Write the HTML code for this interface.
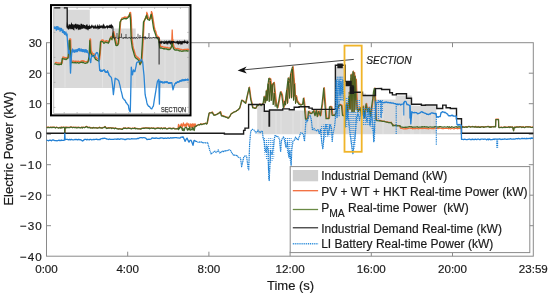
<!DOCTYPE html>
<html><head><meta charset="utf-8">
<style>
html,body{margin:0;padding:0;background:#fff;width:550px;height:296px;overflow:hidden}
svg{display:block}
text{font-family:"Liberation Sans",Arial,sans-serif;fill:#1a1a1a;stroke:#1a1a1a;stroke-width:0.18px}
</style></head><body>
<svg width="550" height="296" viewBox="0 0 550 296">
<!-- main axes box -->
<g id="axes" fill="none" stroke="#8a8a8a" stroke-width="1">
<rect x="46.5" y="42.7" width="486.8" height="213.5"/>
</g>
<!-- ticks -->
<g id="ticks" stroke="#8a8a8a" stroke-width="1" fill="none">
<path d="M127.7 256.2v-4.5M208.9 256.2v-4.5M290.1 256.2v-4.5M371.3 256.2v-4.5M452.5 256.2v-4.5
M127.7 42.7v4.5M208.9 42.7v4.5M290.1 42.7v4.5M371.3 42.7v4.5M452.5 42.7v4.5
M46.5 73.2h4.5M46.5 103.7h4.5M46.5 134.2h4.5M46.5 164.7h4.5M46.5 195.2h4.5M46.5 225.7h4.5
M533.3 73.2h-4.5M533.3 103.7h-4.5M533.3 134.2h-4.5M533.3 164.7h-4.5M533.3 195.2h-4.5M533.3 225.7h-4.5"/>
</g>
<!-- tick labels -->
<g font-size="11.7" text-anchor="end">
<text x="41.8" y="47">30</text>
<text x="41.8" y="77.5">20</text>
<text x="41.8" y="108">10</text>
<text x="41.8" y="138.5">0</text>
<text x="41.8" y="169" textLength="21.7" lengthAdjust="spacing">−10</text>
<text x="41.8" y="199.5" textLength="21.7" lengthAdjust="spacing">−20</text>
<text x="41.8" y="230" textLength="21.7" lengthAdjust="spacing">−30</text>
<text x="41.8" y="260.5" textLength="21.7" lengthAdjust="spacing">−40</text>
</g>
<g font-size="11.6" text-anchor="middle">
<text x="46.5" y="272.8">0:00</text>
<text x="127.7" y="272.8">4:00</text>
<text x="208.9" y="272.8">8:00</text>
<text x="290.1" y="272.8">12:00</text>
<text x="371.3" y="272.8">16:00</text>
<text x="452.5" y="272.8">20:00</text>
<text x="533.3" y="272.8">23:59</text>
</g>
<text x="290.6" y="289.6" font-size="13" text-anchor="middle">Time (s)</text>
<text transform="translate(12.5 148.5) rotate(-90)" font-size="13" text-anchor="middle">Electric Power (kW)</text>

<!-- DATA -->
<g id="data">
<defs><pattern id="hb" width="1.9" height="2" patternUnits="userSpaceOnUse"><rect width="1.1" height="1" fill="#2a86d8"/></pattern><pattern id="hb2" width="1.4" height="1.8" patternUnits="userSpaceOnUse"><rect width="1.1" height="1.1" fill="#1f7fd2"/></pattern></defs>
<path d="M257.2 134.2 L257.2 105.8 L263.7 105.8 L263.7 111.5 L269.0 111.5 L269.0 110.5 L335.4 110.5 L335.4 67.0 L345.0 67.0 L345.0 82.0 L351.0 82.0 L351.0 92.0 L361.0 92.0 L361.0 93.5 L366.0 93.5 L366.0 96.0 L373.3 96.0 L373.3 99.5 L395.6 99.5 L395.6 95.5 L411.8 95.5 L411.8 105.6 L436.3 106.3 L436.3 134.2 L257.2 134.2Z" fill="#d9d9d9"/>
<path d="M436.3 133.8H462" stroke="#c4c4c4" stroke-width="1.2"/>
<path d="M262 112V134M276 112V134M281 112V134M293 112V134M301 112V134M309 112V134M318 112V134M327 112V134M372 112V134M383 112V134M403 112V134M411 112V134M413 112V134M420 112V134M432 112V134" stroke="#e6e6e6" stroke-width="0.8"/>
<path d="M46.5 127.2 L47.2 127.1 L47.9 127.5 L48.6 127.0 L49.3 127.4 L50.0 127.3 L50.7 127.0 L51.4 127.4 L52.1 127.0 L52.8 127.3 L53.5 127.0 L54.2 127.0 L54.9 127.3 L55.6 127.7 L56.3 127.1 L57.0 127.2 L57.7 127.5 L58.4 127.8 L59.1 127.5 L59.8 127.3 L60.5 127.8 L61.2 127.0 L61.9 127.7 L62.6 127.2 L63.3 127.1 L64.0 127.1 L64.5 127.4 L64.8 133.1 L65.1 127.4 L65.5 127.1 L66.2 127.6 L66.9 127.0 L67.6 127.4 L68.3 127.4 L69.0 127.2 L69.7 127.3 L70.4 126.9 L71.1 126.9 L71.8 127.0 L72.5 127.5 L73.2 127.2 L73.9 127.1 L74.6 127.4 L75.3 127.3 L76.0 127.1 L76.7 127.6 L77.4 127.5 L78.1 127.1 L78.8 127.4 L79.5 127.3 L80.2 127.6 L80.9 127.5 L81.6 127.1 L82.3 127.7 L83.0 127.0 L83.7 127.2 L84.4 127.5 L86.5 126.3 L88.0 127.5 L88.5 127.2 L89.2 127.5 L89.9 127.1 L90.6 127.7 L91.3 127.7 L92.0 127.6 L92.7 127.8 L93.4 127.3 L94.1 127.7 L94.8 127.6 L95.5 127.6 L96.2 127.5 L96.9 127.8 L97.6 127.9 L98.3 127.5 L99.0 127.6 L99.7 127.1 L100.4 127.7 L101.1 127.6 L101.8 127.9 L102.5 127.8 L103.2 127.3 L103.9 127.4 L105.0 126.3 L106.5 128.2 L107.5 128.1 L108.2 127.5 L108.9 127.9 L109.6 127.7 L110.3 127.7 L111.0 127.6 L111.7 128.3 L112.4 127.8 L113.1 127.9 L113.8 128.0 L114.5 128.5 L115.2 127.8 L115.9 128.2 L116.6 128.3 L117.3 128.6 L118.0 128.6 L118.8 128.8 L119.5 128.5 L120.2 128.7 L121.0 128.9 L121.8 129.1 L122.5 129.0 L123.2 128.1 L124.0 127.9 L124.7 128.0 L125.4 127.9 L126.2 128.2 L126.9 128.3 L127.6 128.0 L128.3 127.7 L129.1 128.1 L129.8 128.0 L130.5 128.2 L131.2 128.6 L131.9 128.3 L132.7 128.1 L133.4 128.2 L134.1 128.3 L134.8 127.7 L135.6 128.5 L136.3 128.4 L137.0 128.4 L137.8 128.6 L138.5 128.5 L139.2 128.7 L140.0 128.6 L140.8 128.9 L141.6 128.2 L142.4 128.1 L143.2 128.0 L144.0 127.8 L144.7 128.0 L145.4 127.7 L146.1 127.7 L146.8 127.8 L147.5 127.8 L148.2 128.0 L149.0 127.7 L149.7 128.5 L150.4 128.2 L151.1 127.8 L151.8 127.9 L152.5 128.0 L153.2 128.0 L153.9 127.8 L154.6 128.5 L155.3 128.6 L156.0 128.1 L156.8 128.2 L157.5 127.8 L158.2 127.8 L158.9 128.0 L159.6 128.0 L160.3 128.5 L161.0 127.9 L161.7 127.8 L162.4 128.6 L163.1 128.2 L163.8 127.9 L164.5 128.3 L165.2 127.8 L166.0 128.3 L166.7 128.7 L167.4 128.6 L168.1 128.4 L168.8 128.0 L169.5 128.1 L170.2 128.0 L170.9 128.5 L171.6 128.3 L172.3 128.5 L173.0 128.1 L173.8 128.0 L174.5 128.6 L175.2 128.7 L175.9 128.6 L176.6 128.6 L177.3 128.6 L178.0 128.3 L178.5 124.3 L178.9 125.1 L179.4 127.7 L179.8 126.1 L180.3 127.3 L180.7 125.2 L181.2 123.9 L181.6 124.0 L182.1 127.7 L182.5 126.4 L183.0 124.3 L183.4 122.8 L183.9 125.3 L184.3 126.2 L184.8 124.9 L185.2 124.0 L185.7 126.2 L186.1 127.5 L186.6 123.9 L187.0 122.9 L187.5 124.5 L187.9 124.9 L188.4 126.2 L188.8 123.7 L189.3 126.8 L189.7 126.5 L190.2 125.3 L190.6 123.8 L191.1 127.7 L191.5 124.3 L192.0 127.0 L192.4 123.9 L192.9 123.9 L193.3 126.7 L193.8 124.2 L194.2 127.7 L194.7 125.3 L195.0 123.7 L196.1 126.2 L196.8 125.7 L197.5 125.0 L198.3 124.7 L199.0 124.4 L199.7 124.7 L200.4 124.3 L201.1 123.7 L201.8 124.2 L202.5 124.2 L203.2 123.9 L203.9 123.5 L204.6 123.6 L205.3 123.2 L206.0 123.0 L206.7 123.7 L207.4 123.4 L208.4 118.0 L209.4 113.0 L210.2 112.5 L210.9 112.7 L211.7 112.5 L212.4 111.9 L213.4 113.5 L214.4 115.0 L215.2 114.7 L215.9 114.7 L216.7 114.2 L217.4 114.1 L218.2 113.2 L219.1 113.2 L219.9 112.2 L220.7 111.6 L221.7 115.2 L222.5 115.7 L223.2 115.6 L224.0 116.2 L224.7 116.2 L225.5 116.6 L226.3 117.0 L227.2 117.0 L228.0 117.7 L228.8 117.9 L229.6 116.5 L230.3 115.9 L231.1 114.1 L231.8 113.1 L232.6 113.0 L233.3 112.4 L234.1 111.9 L234.9 111.7 L235.7 111.3 L236.4 111.1 L237.2 110.1 L237.9 110.1 L239.0 108.8 L240.0 107.9 L241.0 104.2 L242.0 100.0 L243.0 100.5 L244.0 101.2 L245.0 102.3 L246.0 102.9 L246.8 99.5 L247.5 95.9 L248.5 91.4 L249.5 87.1 L250.3 92.9 L251.1 99.0 L252.1 103.0 L253.1 107.4 L253.9 107.5 L254.7 107.9 L255.4 108.2 L256.2 107.9 L257.4 105.3 L258.1 105.3 L259.1 104.7 L259.8 103.8 L260.8 104.3 L261.8 105.1 L262.8 103.8 L263.8 102.9 L264.8 96.0 L265.8 98.1 L266.9 100.3 L267.6 94.3 L268.3 87.6 L269.5 78.0 L270.9 78.9 L271.9 91.7 L272.9 84.1 L273.6 83.5 L274.4 82.3 L275.6 94.4 L276.6 103.0 L277.3 105.1 L278.0 107.6 L278.8 103.9 L279.6 99.8 L280.3 95.7 L281.1 91.5 L281.8 93.1 L282.5 94.8 L283.3 101.0 L284.1 107.4 L285.1 103.3 L286.1 100.1 L286.9 94.0 L287.7 87.5 L288.8 77.7 L290.2 81.9 L291.0 76.8 L291.8 71.4 L293.2 66.5 L294.2 78.0 L295.3 95.4 L296.5 95.7 L297.7 100.8 L299.1 102.8 L299.8 104.0 L300.5 104.1 L301.2 104.6 L301.9 104.4 L302.6 104.3 L303.3 103.8 L304.1 97.9 L305.0 105.2 L306.2 118.7 L306.9 118.5 L307.7 118.6 L308.4 118.1 L309.2 111.1 L310.0 112.3 L310.9 112.8 L311.7 113.2 L312.6 112.8 L313.4 111.5 L314.3 110.5 L315.7 115.2 L316.9 109.8 L318.0 116.2 L319.2 110.8 L320.1 113.0 L321.0 115.4 L321.8 109.5 L322.7 103.8 L323.6 95.6 L324.4 87.7 L325.3 99.5 L326.7 118.2 L327.4 118.1 L328.1 118.1 L328.8 118.0 L329.5 118.2 L330.2 106.3 L331.1 106.3 L332.0 106.7 L332.7 114.8 L333.6 115.0 L334.5 114.7 L335.4 114.9 L336.7 112.1 L337.4 110.3 L338.1 108.1 L338.9 106.7 L339.6 104.5 L340.5 104.4 L341.3 104.7 L342.2 105.2 L343.2 114.7 L344.0 115.3 L344.9 114.9 L345.7 115.0 L346.4 109.5 L347.2 103.4 L348.2 111.5 L348.9 103.7 L349.7 95.9 L350.7 107.4 L351.9 77.8 L352.7 99.7 L353.7 73.6 L354.7 72.4 L355.7 99.4 L356.4 79.1 L357.4 104.2 L358.7 111.2 L359.7 109.7 L360.7 107.3 L361.4 111.2 L362.2 115.2 L362.9 110.8 L363.7 105.8 L364.4 111.6 L365.2 117.3 L365.9 110.3 L366.7 103.3 L367.4 107.5 L368.2 111.2 L368.9 109.5 L369.7 107.3 L370.4 111.9 L371.2 115.9 L371.9 109.5 L372.7 103.3 L373.4 97.9 L374.2 91.3 L375.0 87.9 L375.9 103.1 L376.2 120.1 L377.0 120.3 L377.7 120.4 L378.5 120.3 L379.2 120.6 L380.0 120.3 L380.8 120.7 L381.6 120.7 L382.4 121.1 L383.2 121.0 L384.0 121.1 L384.8 121.4 L385.6 121.5 L386.4 121.9 L387.2 121.9 L388.0 122.2 L388.8 122.2 L389.5 122.3 L390.2 122.5 L391.0 122.2 L392.0 123.6 L393.0 125.6 L393.7 124.9 L394.4 125.4 L395.1 125.3 L395.8 124.9 L396.5 125.5 L397.2 125.6 L397.9 125.4 L398.6 125.5 L399.3 125.5 L400.0 127.1 L400.5 128.2 L401.3 128.5 L402.1 128.5 L402.9 128.8 L403.7 128.8 L404.5 128.8 L405.3 128.6 L406.1 128.9 L406.9 128.7 L407.7 128.7 L408.5 128.3 L409.3 128.1 L410.1 128.2 L410.9 128.4 L411.7 128.1 L412.5 128.8 L413.3 128.6 L414.1 128.6 L414.9 128.6 L415.7 128.7 L416.5 128.5 L417.3 128.1 L418.1 128.8 L418.9 128.7 L419.7 128.5 L420.5 128.5 L421.3 128.6 L422.1 128.1 L422.9 128.7 L423.7 128.3 L424.5 128.1 L425.3 128.3 L426.1 128.7 L426.9 128.2 L427.7 128.7 L428.5 128.9 L429.3 128.5 L430.1 128.4 L430.9 128.5 L431.7 128.7 L432.5 128.7 L433.3 128.6 L434.1 128.6 L434.9 128.1 L435.7 128.2 L436.5 128.3 L437.3 128.7 L438.1 128.3 L438.9 128.6 L439.7 128.1 L440.5 128.1 L441.3 128.3 L442.1 128.7 L442.9 128.7 L443.7 128.7 L444.5 128.3 L445.3 128.5 L446.1 128.5 L446.9 128.5 L447.7 128.2 L448.5 128.9 L449.3 128.2 L450.1 128.9 L450.9 128.9 L451.7 128.1 L452.5 128.5 L453.3 128.8 L454.1 128.9 L454.9 128.5 L455.7 128.3 L456.5 128.2 L457.3 128.9 L458.1 128.2 L458.9 128.6 L459.7 128.2 L460.5 128.5 L461.3 128.9 L462.1 126.4 L462.9 127.0 L463.7 126.7 L464.5 127.0 L465.3 126.9 L466.1 126.5 L466.9 127.1 L467.7 126.7 L468.5 126.3 L469.3 126.3 L470.1 126.7 L470.9 126.7 L471.7 126.5 L472.5 126.4 L473.3 126.6 L474.1 126.5 L474.9 127.0 L475.7 126.3 L476.5 126.9 L477.3 127.0 L478.1 126.4 L478.9 127.1 L479.7 126.9 L480.5 127.1 L481.3 126.5 L482.1 126.6 L482.9 126.6 L483.7 127.1 L484.5 126.8 L485.3 126.6 L486.1 126.6 L486.9 126.5 L487.7 126.3 L488.5 126.3 L489.3 127.0 L490.1 126.5 L490.9 127.1 L491.7 126.5 L492.5 126.5 L493.3 126.7 L494.1 126.4 L494.9 126.6 L495.6 126.5 L495.8 119.2 L498.5 119.2 L498.7 126.9 L499.3 127.4 L500.0 127.3 L500.7 127.2 L501.4 127.1 L502.1 127.3 L502.8 127.4 L503.5 127.0 L504.2 127.2 L504.9 126.6 L505.6 127.2 L506.3 127.0 L507.0 127.2 L507.7 127.1 L508.4 126.8 L509.1 126.6 L509.8 127.3 L510.5 126.7 L511.2 127.0 L511.9 126.9 L512.6 126.8 L513.6 130.5 L514.2 127.0 L514.8 127.1 L515.5 127.3 L516.2 126.7 L516.9 127.0 L517.6 126.7 L518.3 126.9 L519.0 126.8 L519.7 126.6 L520.4 126.6 L521.1 126.7 L521.8 127.2 L522.5 126.9 L523.2 126.7 L523.9 127.2 L524.6 127.3 L525.3 126.9 L526.0 126.6 L526.7 126.7 L527.4 126.6 L528.1 126.8 L528.8 126.6 L529.5 126.7 L530.2 126.7 L530.9 127.0 L531.6 127.2 L532.3 127.1 L533.0 126.8" fill="none" stroke="#f0703a" stroke-width="1.2" stroke-linejoin="round"/>
<path d="M46.5 127.5 L47.2 127.4 L47.9 127.8 L48.6 127.3 L49.3 127.7 L50.0 127.6 L50.7 127.3 L51.4 127.7 L52.1 127.3 L52.8 127.6 L53.5 127.3 L54.2 127.3 L54.9 127.6 L55.6 128.0 L56.3 127.4 L57.0 127.5 L57.7 127.8 L58.4 128.1 L59.1 127.8 L59.8 127.6 L60.5 128.1 L61.2 127.3 L61.9 128.0 L62.6 127.5 L63.3 127.4 L64.0 127.4 L64.5 127.7 L64.8 133.4 L65.1 127.7 L65.5 127.4 L66.2 127.9 L66.9 127.3 L67.6 127.7 L68.3 127.7 L69.0 127.5 L69.7 127.6 L70.4 127.2 L71.1 127.2 L71.8 127.3 L72.5 127.8 L73.2 127.5 L73.9 127.4 L74.6 127.7 L75.3 127.6 L76.0 127.4 L76.7 127.9 L77.4 127.8 L78.1 127.4 L78.8 127.7 L79.5 127.6 L80.2 127.9 L80.9 127.8 L81.6 127.4 L82.3 128.0 L83.0 127.3 L83.7 127.5 L84.4 127.8 L86.5 126.6 L88.0 127.8 L88.5 127.5 L89.2 127.8 L89.9 127.4 L90.6 128.0 L91.3 128.0 L92.0 127.9 L92.7 128.1 L93.4 127.6 L94.1 128.0 L94.8 127.9 L95.5 127.9 L96.2 127.8 L96.9 128.1 L97.6 128.2 L98.3 127.8 L99.0 127.9 L99.7 127.4 L100.4 128.0 L101.1 127.9 L101.8 128.2 L102.5 128.1 L103.2 127.6 L103.9 127.7 L105.0 126.6 L106.5 128.5 L107.5 128.4 L108.2 127.8 L108.9 128.2 L109.6 128.0 L110.3 128.0 L111.0 127.9 L111.7 128.6 L112.4 128.1 L113.1 128.2 L113.8 128.3 L114.5 128.8 L115.2 128.1 L115.9 128.5 L116.6 128.6 L117.3 128.9 L118.0 128.9 L118.8 129.1 L119.5 128.8 L120.2 129.0 L121.0 129.2 L121.8 129.4 L122.5 129.3 L123.2 128.4 L124.0 128.2 L124.7 128.3 L125.4 128.2 L126.2 128.5 L126.9 128.6 L127.6 128.3 L128.3 128.0 L129.1 128.4 L129.8 128.3 L130.5 128.5 L131.2 128.9 L131.9 128.6 L132.7 128.4 L133.4 128.5 L134.1 128.6 L134.8 128.0 L135.6 128.8 L136.3 128.7 L137.0 128.7 L137.8 128.9 L138.5 128.8 L139.2 129.0 L140.0 128.9 L140.8 129.2 L141.6 128.5 L142.4 128.4 L143.2 128.3 L144.0 128.1 L144.7 128.3 L145.4 128.0 L146.1 128.0 L146.8 128.1 L147.5 128.1 L148.2 128.3 L149.0 128.0 L149.7 128.8 L150.4 128.5 L151.1 128.1 L151.8 128.2 L152.5 128.3 L153.2 128.3 L153.9 128.1 L154.6 128.8 L155.3 128.9 L156.0 128.4 L156.8 128.5 L157.5 128.1 L158.2 128.1 L158.9 128.3 L159.6 128.3 L160.3 128.8 L161.0 128.2 L161.7 128.1 L162.4 128.9 L163.1 128.5 L163.8 128.2 L164.5 128.6 L165.2 128.1 L166.0 128.6 L166.7 129.0 L167.4 128.9 L168.1 128.7 L168.8 128.3 L169.5 128.4 L170.2 128.3 L170.9 128.8 L171.6 128.6 L172.3 128.8 L173.0 128.4 L173.8 128.3 L174.5 128.9 L175.2 129.0 L175.9 128.9 L176.6 128.9 L177.3 128.9 L178.0 128.6 L178.5 129.6 L178.9 127.5 L179.4 128.7 L179.8 128.0 L180.3 126.7 L180.7 126.7 L181.2 127.7 L181.6 127.6 L182.1 129.4 L182.5 130.4 L183.0 128.4 L183.4 130.3 L183.9 130.6 L184.3 130.4 L184.8 128.1 L185.2 127.5 L185.7 127.5 L186.1 127.4 L186.6 127.4 L187.0 129.1 L187.5 130.2 L187.9 130.0 L188.4 128.5 L188.8 129.2 L189.3 129.8 L189.7 126.9 L190.2 129.2 L190.6 130.2 L191.1 129.7 L191.5 129.6 L192.0 128.5 L192.4 127.3 L192.9 129.8 L193.3 127.9 L193.8 129.8 L194.2 130.5 L194.7 128.2 L195.0 126.4 L195.7 126.6 L196.4 126.1 L197.1 125.3 L197.9 125.0 L198.6 124.7 L199.3 125.0 L200.0 124.6 L200.7 124.0 L201.4 124.5 L202.1 124.5 L202.8 124.2 L203.5 123.9 L204.2 124.0 L204.9 123.5 L205.6 123.4 L206.3 124.1 L207.0 123.7 L208.0 118.3 L209.0 113.3 L209.8 112.8 L210.5 113.0 L211.2 112.9 L212.0 112.3 L213.0 113.8 L214.0 115.3 L214.8 115.0 L215.5 115.1 L216.2 114.6 L217.0 114.4 L217.8 113.6 L218.7 113.6 L219.5 112.5 L220.3 112.0 L221.3 115.6 L222.1 116.1 L222.8 115.9 L223.6 116.6 L224.3 116.5 L225.1 116.9 L225.9 117.3 L226.8 117.3 L227.6 118.1 L228.4 118.2 L229.2 116.9 L229.9 116.2 L230.7 114.5 L231.4 113.5 L232.2 113.3 L232.9 112.8 L233.7 112.2 L234.5 112.0 L235.2 111.6 L236.0 111.4 L236.8 110.5 L237.5 110.4 L238.6 109.2 L239.6 108.2 L240.6 104.6 L241.6 100.3 L242.6 100.8 L243.6 101.5 L244.6 102.6 L245.6 103.3 L246.3 99.8 L247.1 96.2 L248.1 91.8 L249.1 87.5 L249.9 93.3 L250.7 99.3 L251.7 103.3 L252.7 107.8 L253.5 107.8 L254.2 108.2 L255.0 108.5 L255.8 108.2 L257.0 105.6 L257.7 105.6 L258.4 105.2 L259.1 104.3 L260.1 104.8 L261.1 105.6 L262.1 104.3 L263.1 103.4 L264.1 96.5 L265.1 98.6 L266.2 100.8 L266.9 94.8 L267.6 88.1 L268.8 78.5 L270.2 79.4 L271.2 92.2 L272.2 84.6 L272.9 84.0 L273.7 82.8 L274.9 94.9 L275.9 103.5 L276.6 105.6 L277.3 108.1 L278.1 104.4 L278.9 100.3 L279.6 96.2 L280.4 92.0 L281.1 93.6 L281.8 95.3 L282.6 101.5 L283.4 107.9 L284.4 103.8 L285.4 100.6 L286.2 94.5 L287.0 88.0 L288.1 78.2 L289.5 82.4 L290.3 77.3 L291.1 71.9 L292.5 67.0 L293.5 78.5 L294.6 95.9 L295.8 96.2 L297.0 101.3 L298.4 103.3 L299.1 104.5 L299.8 104.6 L300.5 105.1 L301.2 104.9 L301.9 104.8 L302.6 104.3 L303.4 98.4 L304.3 105.7 L305.5 119.2 L306.2 119.0 L307.0 119.1 L307.7 118.6 L308.5 111.6 L309.3 112.8 L310.2 113.3 L311.0 113.7 L311.9 113.3 L312.7 112.0 L313.6 111.0 L315.0 115.7 L316.2 110.3 L317.3 116.7 L318.5 111.3 L319.4 113.5 L320.3 115.9 L321.1 110.0 L322.0 104.3 L322.9 96.1 L323.7 88.2 L324.6 100.0 L326.0 118.7 L326.7 118.6 L327.4 118.6 L328.1 118.5 L328.8 118.7 L329.5 106.8 L330.4 106.8 L331.3 107.2 L332.0 115.3 L332.9 115.5 L333.8 115.2 L334.7 115.4 L336.0 112.6 L336.7 110.8 L337.4 108.6 L338.2 107.2 L338.9 105.0 L339.8 104.9 L340.6 105.2 L341.5 105.7 L342.5 115.2 L343.3 115.8 L344.2 115.4 L345.0 115.5 L345.8 110.0 L346.5 103.9 L347.5 112.0 L348.2 104.2 L349.0 96.4 L350.0 107.9 L351.2 78.3 L352.0 100.2 L353.0 74.1 L354.0 72.9 L355.0 99.9 L355.7 79.6 L356.7 104.7 L358.0 111.7 L359.0 110.2 L360.0 107.8 L360.8 111.7 L361.5 115.7 L362.2 111.3 L363.0 106.3 L363.8 112.1 L364.5 117.8 L365.2 110.8 L366.0 103.8 L366.8 108.0 L367.5 111.7 L368.2 110.0 L369.0 107.8 L369.8 112.4 L370.5 116.4 L371.2 110.0 L372.0 103.8 L372.8 98.4 L373.5 91.8 L374.3 88.4 L375.2 103.6 L376.2 120.4 L377.0 120.6 L377.7 120.7 L378.5 120.6 L379.2 120.9 L380.0 120.6 L380.8 121.0 L381.6 121.0 L382.4 121.4 L383.2 121.3 L384.0 121.4 L384.8 121.7 L385.6 121.8 L386.4 122.2 L387.2 122.2 L388.0 122.5 L388.8 122.5 L389.5 122.6 L390.2 122.8 L391.0 122.5 L392.0 123.9 L393.0 125.9 L393.7 125.2 L394.4 125.7 L395.1 125.6 L395.8 125.2 L396.5 125.8 L397.2 125.9 L397.9 125.7 L398.6 125.8 L399.3 125.8 L400.0 125.6 L400.5 126.7 L401.3 127.0 L402.1 127.0 L402.9 127.3 L403.7 127.3 L404.5 127.3 L405.3 127.1 L406.1 127.4 L406.9 127.2 L407.7 127.2 L408.5 126.8 L409.3 126.6 L410.1 126.7 L410.9 126.9 L411.7 126.6 L412.5 127.3 L413.3 127.1 L414.1 127.1 L414.9 127.1 L415.7 127.2 L416.5 127.0 L417.3 126.6 L418.1 127.3 L418.9 127.2 L419.7 127.0 L420.5 127.0 L421.3 127.1 L422.1 126.6 L422.9 127.2 L423.7 126.8 L424.5 126.6 L425.3 126.8 L426.1 127.2 L426.9 126.7 L427.7 127.2 L428.5 127.4 L429.3 127.0 L430.1 126.9 L430.9 127.0 L431.7 127.2 L432.5 127.2 L433.3 127.1 L434.1 127.1 L434.9 126.6 L435.7 126.7 L436.5 126.8 L437.3 127.2 L438.1 126.8 L438.9 127.1 L439.7 126.6 L440.5 126.6 L441.3 126.8 L442.1 127.2 L442.9 127.2 L443.7 127.2 L444.5 126.8 L445.3 127.0 L446.1 127.0 L446.9 127.0 L447.7 126.7 L448.5 127.4 L449.3 126.7 L450.1 127.4 L450.9 127.4 L451.7 126.6 L452.5 127.0 L453.3 127.3 L454.1 127.4 L454.9 127.0 L455.7 126.8 L456.5 126.7 L457.3 127.4 L458.1 126.7 L458.9 127.1 L459.7 126.7 L460.5 127.0 L461.3 127.4 L462.1 126.7 L462.9 127.3 L463.7 127.0 L464.5 127.3 L465.3 127.2 L466.1 126.8 L466.9 127.4 L467.7 127.0 L468.5 126.6 L469.3 126.6 L470.1 127.0 L470.9 127.0 L471.7 126.8 L472.5 126.7 L473.3 126.9 L474.1 126.8 L474.9 127.3 L475.7 126.6 L476.5 127.2 L477.3 127.3 L478.1 126.7 L478.9 127.4 L479.7 127.2 L480.5 127.4 L481.3 126.8 L482.1 126.9 L482.9 126.9 L483.7 127.4 L484.5 127.1 L485.3 126.9 L486.1 126.9 L486.9 126.8 L487.7 126.6 L488.5 126.6 L489.3 127.3 L490.1 126.8 L490.9 127.4 L491.7 126.8 L492.5 126.8 L493.3 127.0 L494.1 126.7 L494.9 126.9 L495.6 126.8 L495.8 119.5 L498.5 119.5 L498.7 127.2 L499.3 127.7 L500.0 127.6 L500.7 127.5 L501.4 127.4 L502.1 127.6 L502.8 127.7 L503.5 127.3 L504.2 127.5 L504.9 126.9 L505.6 127.5 L506.3 127.3 L507.0 127.5 L507.7 127.4 L508.4 127.1 L509.1 126.9 L509.8 127.6 L510.5 127.0 L511.2 127.3 L511.9 127.2 L512.6 127.1 L513.6 130.8 L514.2 127.3 L514.8 127.4 L515.5 127.6 L516.2 127.0 L516.9 127.3 L517.6 127.0 L518.3 127.2 L519.0 127.1 L519.7 126.9 L520.4 126.9 L521.1 127.0 L521.8 127.5 L522.5 127.2 L523.2 127.0 L523.9 127.5 L524.6 127.6 L525.3 127.2 L526.0 126.9 L526.7 127.0 L527.4 126.9 L528.1 127.1 L528.8 126.9 L529.5 127.0 L530.2 127.0 L530.9 127.3 L531.6 127.5 L532.3 127.4 L533.0 127.1" fill="none" stroke="#46682a" stroke-width="1.25" stroke-linejoin="round"/>
<path d="M264.6 96.2 L265.6 102.5 L266.6 89.8 L267.6 99.9 L268.6 82.8 L269.6 101.0 L270.6 80.2 L271.6 100.0 L272.6 83.5 L273.6 104.1 L274.6 92.0 L275.6 106.0" fill="none" stroke="#f0703a" stroke-width="0.7"/>
<path d="M264.2 97.0 L265.2 103.3 L266.2 90.6 L267.2 100.7 L268.2 83.6 L269.2 101.8 L270.2 81.0 L271.2 100.8 L272.2 84.3 L273.2 104.9 L274.2 92.8 L275.2 106.8" fill="none" stroke="#3b5c1c" stroke-width="0.95"/>
<path d="M284.9 100.2 L285.9 104.4 L286.9 89.5 L287.9 102.8 L288.9 80.5 L289.9 97.7 L290.9 73.0 L291.9 97.4 L292.9 68.0 L293.9 99.7 L294.9 83.0 L295.9 102.9 L296.9 96.4" fill="none" stroke="#f0703a" stroke-width="0.7"/>
<path d="M284.5 101.0 L285.5 105.2 L286.5 90.3 L287.5 103.6 L288.5 81.3 L289.5 98.5 L290.5 73.8 L291.5 98.2 L292.5 68.8 L293.5 100.5 L294.5 83.8 L295.5 103.7 L296.5 97.2" fill="none" stroke="#3b5c1c" stroke-width="0.95"/>
<path d="M349.4 91.2 L350.4 108.9 L351.4 73.7 L352.4 111.5 L353.4 70.6 L354.4 111.5 L355.4 75.4 L356.4 109.2" fill="none" stroke="#f0703a" stroke-width="0.7"/>
<path d="M349.0 92.0 L350.0 109.7 L351.0 74.5 L352.0 112.3 L353.0 71.4 L354.0 112.3 L355.0 76.2 L356.0 110.0" fill="none" stroke="#3b5c1c" stroke-width="0.95"/>
<path d="M46.5 133.3 L224.4 133.3 L224.4 134.0 L243.6 134.0 L243.6 130.4 L245.0 130.4 L245.0 128.1 L248.6 128.1 L248.6 104.5 L264.3 104.5 L264.3 111.3 L269.1 111.3 L269.1 126.1 L269.5 126.1 L269.5 110.0 L282.7 110.0 L282.7 108.9 L289.3 108.9 L289.3 109.7 L294.2 109.7 L294.2 107.3 L299.1 107.3 L299.1 106.8 L309.0 106.8 L309.0 108.1 L312.2 108.1 L312.2 109.4 L335.4 109.4 L335.4 65.3 L345.1 65.3 L345.1 81.4 L351.0 81.4 L351.0 86.0 L353.0 86.0 L353.0 92.2 L362.5 92.2 L362.5 95.5 L375.5 95.5 L375.5 88.6 L381.6 88.4 L381.6 89.5 L389.7 89.5 L389.7 92.8 L392.4 92.8 L392.4 94.9 L396.3 94.9 L396.3 93.8 L406.5 93.8 L406.5 98.2 L411.5 98.2 L411.5 104.3 L421.4 104.3 L421.4 105.3 L425.4 105.3 L425.4 105.0 L436.8 105.0 L436.8 108.5 L442.7 108.5 L442.7 105.1 L446.1 105.1 L446.1 107.7 L450.3 107.7 L450.3 108.5 L456.5 108.5 L456.5 118.8 L461.5 118.8 L461.5 133.3 L533.3 133.3" fill="none" stroke="#1a1a1a" stroke-width="1.4"/>
<path d="M337.3 63.6h5.5v4.6h-5.5zM345.5 81.4h5.6v4.8h-5.6zM349.6 86.5h4.6v7.5h-4.6z" fill="#1a1a1a"/>
<path d="M263.0 137.0 L266.0 139.0 L270.0 138.0 L274.3 139.0 L274.3 158.0 L272.0 161.5 L270.2 164.0 L269.6 180.0 L268.8 180.0 L268.0 170.0 L267.0 160.0 L265.0 157.0 L263.0 143.0ZM284.4 137.0 L291.8 137.5 L291.8 150.0 L291.1 165.6 L289.0 158.0 L287.0 152.0 L284.4 140.0ZM320.8 125.0 L331.5 123.5 L331.5 136.0 L326.0 137.0 L324.6 138.0 L322.8 149.0 L320.8 138.0ZM344.2 98.0 L349.0 98.0 L349.0 112.0 L359.7 112.0 L357.0 125.0 L355.1 147.7 L353.0 153.5 L351.2 147.7 L349.0 125.0 L347.3 127.5 L344.2 127.5ZM356.0 100.0 L360.0 100.0 L359.7 112.0 L356.0 112.0ZM362.7 106.8 L369.2 106.8 L375.7 106.8 L375.7 132.8 L374.8 141.2 L373.8 141.2 L373.8 132.8 L369.2 125.4 L362.7 125.4ZM376.6 100.0 L383.1 100.0 L383.1 112.0 L378.0 121.7 L376.6 121.7Z" fill="url(#hb)"/>
<path d="M336.6 76.5H343.2V101H340V117H336.6Z" fill="url(#hb2)"/>
<path d="M46.5 140.2 L47.2 140.3 L47.9 140.5 L48.6 140.8 L49.3 140.1 L50.0 140.3 L50.7 140.2 L51.4 140.8 L52.1 140.1 L52.8 140.0 L53.5 140.0 L54.2 140.3 L54.9 140.7 L55.6 140.7 L56.3 140.6 L57.0 140.8 L57.7 140.7 L58.4 140.3 L59.1 140.1 L59.8 140.7 L60.5 140.6 L61.2 140.0 L61.9 140.5 L62.6 140.3 L63.3 140.3 L64.0 140.3 L64.5 139.6 L64.8 133.4 L65.1 139.8 L65.5 139.4 L66.3 139.3 L67.1 139.4 L67.9 139.5 L68.7 139.9 L69.5 139.3 L70.3 139.9 L71.1 139.4 L71.9 139.5 L72.8 139.8 L73.6 139.8 L74.4 139.6 L75.2 139.3 L76.0 139.6 L76.8 139.5 L77.6 139.9 L78.4 139.4 L79.2 139.5 L80.0 139.9 L80.8 139.7 L81.6 140.3 L82.4 141.0 L83.3 140.6 L84.1 139.7 L85.0 139.3 L85.8 139.3 L86.7 139.9 L87.5 139.4 L88.3 139.7 L89.2 139.8 L90.0 139.4 L90.8 139.4 L91.7 139.8 L92.5 139.6 L93.3 139.3 L94.2 139.6 L95.0 139.3 L95.8 139.3 L96.7 139.1 L97.5 139.6 L98.3 139.7 L99.2 139.5 L100.0 139.7 L100.8 138.8 L101.7 138.6 L102.5 138.5 L103.4 138.5 L104.2 138.2 L105.1 138.3 L106.1 138.6 L107.0 139.2 L107.8 139.2 L108.7 139.5 L109.5 139.0 L110.3 139.4 L111.1 139.4 L112.0 139.4 L112.8 139.4 L113.6 139.3 L114.4 139.1 L115.3 139.1 L116.1 139.1 L116.9 139.4 L117.7 138.9 L118.6 139.0 L119.4 139.4 L120.2 139.0 L121.0 138.9 L121.9 138.9 L122.7 139.2 L123.5 139.1 L124.3 139.5 L125.2 139.5 L126.0 139.5 L126.8 139.0 L127.7 138.8 L128.5 138.8 L129.3 139.0 L130.1 139.1 L131.0 138.9 L131.8 138.7 L132.6 138.8 L133.5 138.9 L134.3 138.9 L135.1 138.9 L135.9 138.9 L136.8 138.8 L137.6 138.3 L138.6 138.5 L139.5 137.8 L140.5 137.6 L141.4 137.6 L142.3 137.9 L143.2 137.6 L144.1 137.7 L145.0 137.8 L146.0 138.4 L147.0 139.5 L148.0 139.3 L149.0 139.2 L150.0 139.3 L151.0 139.0 L152.0 138.0 L152.8 137.8 L153.6 138.3 L154.4 138.2 L155.2 138.4 L156.0 137.8 L156.8 138.1 L157.6 138.4 L158.4 138.4 L159.2 138.5 L160.0 137.9 L160.8 138.0 L161.6 137.9 L162.5 137.9 L163.3 138.5 L164.1 138.2 L164.9 138.4 L165.7 138.0 L166.5 138.3 L167.4 138.0 L168.2 137.9 L169.0 138.2 L169.8 138.3 L170.6 137.7 L171.5 138.0 L172.3 138.0 L173.1 137.7 L173.9 137.8 L174.7 137.6 L175.5 137.6 L176.4 137.7 L177.2 137.9 L178.0 137.8 L180.0 138.2 L180.6 137.5 L181.2 137.1 L181.8 137.2 L182.4 137.4 L183.0 136.7 L183.7 138.1 L184.3 139.4 L185.0 141.3 L185.7 140.2 L186.3 138.9 L187.0 138.1 L187.7 139.6 L188.3 140.9 L189.0 142.1 L189.7 140.9 L190.3 140.3 L191.0 140.2 L191.7 141.7 L192.3 143.4 L193.0 145.3 L194.0 140.5 L194.7 140.3 L195.3 141.1 L196.0 141.4" fill="none" stroke="#2380d4" stroke-width="1.3" stroke-linejoin="round"/>
<path d="M196.0 141.4 L196.7 141.5 L197.3 142.1 L198.0 142.3 L198.7 141.8 L199.3 141.8 L200.0 142.4 L200.6 142.0 L201.2 141.9 L201.8 142.9 L202.4 142.5 L203.1 143.0 L203.7 142.7 L204.3 143.3 L204.9 143.0 L205.5 142.8 L206.1 142.7 L206.9 142.8 L207.7 142.3 L208.4 145.7 L209.1 147.9 L209.8 150.4 L210.5 152.2 L211.2 154.3 L212.2 152.9 L212.9 152.4 L213.5 152.0 L214.2 151.7 L214.9 151.2 L215.5 152.0 L216.2 152.6 L216.9 152.1 L217.6 150.7 L218.3 149.9 L219.0 151.7 L219.6 152.8 L220.3 153.3 L221.0 152.2 L221.6 152.4 L222.3 151.2 L222.9 151.7 L223.5 151.4 L224.2 151.6 L224.8 151.0 L225.4 151.6 L226.0 150.7 L226.6 150.6 L227.2 150.8 L227.8 150.5 L228.4 149.6 L229.1 149.8 L229.7 150.1 L230.4 150.3 L231.1 151.5 L231.8 152.6 L232.5 154.0 L233.1 154.7 L233.7 155.1 L234.3 154.5 L234.9 155.2 L235.5 155.7 L236.2 155.3 L236.8 156.4 L237.5 156.0 L238.1 156.9 L238.7 157.3 L239.4 157.7 L240.0 157.8 L240.6 158.3 L241.6 166.6 L242.6 162.4 L243.6 157.6 L244.3 156.6 L245.0 155.9 L245.8 155.7 L246.7 156.5 L247.4 162.5 L248.1 168.3 L248.7 169.9 L249.7 142.3 L250.7 132.0 L251.3 130.4 L252.0 129.5 L252.6 129.3 L253.2 129.5 L253.8 129.9 L254.5 130.6 L255.3 131.9 L256.0 133.0 L256.7 131.7 L257.3 131.5 L258.0 130.1 L258.7 131.4 L259.3 132.1 L260.0 132.5 L260.8 131.6 L261.5 131.5 L262.3 131.0 L262.3 130.9 L263.0 137.5 L264.0 140.6 L265.0 147.4 L266.0 152.5 L267.0 146.2 L268.0 150.3 L268.8 177.7 L269.2 180.5 L269.8 168.0 L270.5 150.5 L271.2 152.9 L272.0 154.7 L272.8 150.8 L273.5 146.4 L274.3 139.6 L275.0 135.0 L275.5 135.8 L276.1 135.4 L276.8 136.4 L277.4 136.0 L278.0 136.8 L278.8 137.9 L279.6 140.0 L280.6 151.8 L281.6 139.7 L282.2 138.8 L282.9 138.0 L283.5 136.8 L284.4 139.5 L285.2 143.7 L286.0 147.7 L286.8 145.4 L287.5 142.2 L288.2 150.4 L289.0 157.7 L290.0 150.3 L291.1 165.2 L291.8 150.0 L293.0 141.1 L293.8 140.4 L294.5 140.4 L295.5 137.1 L296.1 137.8 L296.8 138.8 L297.4 138.7 L298.0 140.3 L298.6 138.4 L299.2 136.7 L299.8 135.5 L300.4 133.5 L301.0 132.7 L301.8 133.0 L302.6 133.6 L303.4 134.8 L304.5 141.2 L305.3 129.7 L306.0 120.2 L307.2 121.5 L307.9 119.8 L308.7 116.8 L309.4 116.1 L310.2 115.5 L310.9 118.1 L311.5 121.2 L312.5 130.4 L313.2 129.3 L314.0 128.5 L314.7 129.3 L315.3 130.4 L316.0 130.9 L316.7 130.7 L317.3 130.7 L318.0 129.6 L318.6 131.6 L319.3 133.9 L320.5 129.5 L321.5 139.5 L322.1 144.4 L322.8 148.6 L323.8 139.9 L324.6 129.7 L325.3 127.1 L326.0 124.1 L326.7 127.4 L327.3 131.5 L328.0 135.0 L328.7 131.3 L329.3 128.8 L330.0 124.7 L330.8 126.1 L331.5 127.6 L332.2 141.4 L333.0 133.4 L333.8 130.3 L334.5 126.9 L335.3 119.8 L335.6 95.5 L336.2 80.1 L337.0 118.1 L338.0 89.9 L339.0 80.1 L340.0 94.9 L341.0 82.4 L342.0 94.2 L343.0 79.7 L343.8 100.4 L344.5 95.5 L345.3 127.0 L346.0 104.9 L347.0 119.7 L348.0 111.6 L348.8 121.3 L349.5 129.5 L350.2 135.1 L351.0 140.4 L352.2 149.6 L352.9 153.7 L353.6 148.1 L354.3 142.0 L355.0 136.1 L355.8 127.3 L356.5 117.7 L357.2 115.8 L358.0 113.8 L358.8 116.5 L359.5 120.4 L360.2 116.3 L361.0 112.2 L361.8 109.5 L362.5 108.3 L363.2 113.2 L364.0 118.0 L364.8 115.2 L365.5 112.0 L366.2 116.7 L367.0 121.6 L367.8 115.7 L368.5 109.5 L369.2 117.3 L370.0 125.2 L370.8 118.7 L371.5 112.3 L372.2 120.2 L373.0 127.8 L373.8 141.6 L374.6 125.9 L375.5 112.3 L376.5 103.0 L376.5 103.0" fill="none" stroke="#1a7fd4" stroke-width="1.25" stroke-dasharray="1.2 0.6" stroke-linejoin="round"/>
<path d="M376.5 103.0 L376.5 103.0 L377.2 102.5 L377.9 102.5 L378.6 102.5 L379.3 101.5 L380.0 101.8 L380.6 101.3 L381.2 101.7 L381.8 101.9 L382.4 102.5 L383.0 102.9 L383.7 102.7 L384.3 102.2 L385.0 102.7 L385.7 102.1 L386.3 102.0 L387.0 102.6 L387.7 102.4 L388.4 102.5 L389.0 102.6 L389.7 102.9 L390.4 102.5 L391.0 103.0 L391.7 102.9 L392.4 103.1 L393.1 103.0 L393.8 103.5 L394.4 103.6 L395.1 103.6 L395.8 103.7 L396.6 104.4 L397.3 104.0 L398.0 104.8 L398.6 104.2 L399.3 104.1 L400.0 104.2 L400.7 105.0 L401.4 104.4 L402.1 104.2 L402.8 104.1 L403.5 104.1 L404.5 101.4 L405.2 101.4 L406.0 101.6 L407.0 104.7 L407.6 104.3 L408.2 104.9 L408.8 104.9 L409.4 105.4 L410.0 105.6 L410.8 123.9 L411.8 111.6 L412.5 112.5 L413.3 112.7 L414.0 112.9 L414.7 112.3 L415.3 112.6 L416.0 112.7 L416.7 112.7 L417.3 113.6 L418.0 113.8 L418.7 113.4 L419.3 113.3 L420.0 112.9 L420.7 112.3 L421.3 111.9 L422.0 111.6 L422.6 112.5 L423.2 112.3 L423.8 112.7 L424.4 113.1 L425.0 113.1 L425.6 113.5 L426.2 113.7 L426.8 114.3 L427.4 114.2 L428.0 114.3 L428.7 114.7 L429.3 114.0 L430.0 114.1 L430.7 113.6 L431.3 112.8 L432.0 112.9 L432.6 113.0 L433.3 113.4 L433.9 113.2 L434.5 113.6 L435.2 113.5 L435.8 113.3 L436.8 117.3 L437.5 116.6 L438.2 117.3 L438.8 116.7 L439.5 116.6 L440.2 116.7 L441.0 112.7 L441.7 112.7 L442.3 111.7 L443.0 111.9 L443.7 112.1 L444.3 112.6 L445.0 112.2 L445.7 112.9 L446.3 113.1 L447.0 113.9 L447.7 114.2 L448.3 115.6 L449.0 115.8 L449.6 115.6 L450.2 116.0 L450.8 115.7 L451.4 115.2 L452.0 115.6 L452.6 115.2 L453.2 116.0 L453.8 116.0 L454.5 116.2 L455.1 116.1 L455.7 116.0 L456.3 116.1 L457.0 124.5 L457.6 125.0 L458.2 124.4 L458.8 125.2 L459.5 124.5 L460.1 124.8 L460.7 124.9 L461.3 125.6 L461.5 139.3 L462.0 139.4 L462.7 139.3 L463.4 139.7 L464.1 139.2 L464.8 139.4 L465.5 139.4 L466.2 139.6 L466.9 139.6 L467.6 139.5 L468.3 139.3 L469.0 139.2 L469.7 139.1 L470.4 139.7 L471.1 139.5 L471.8 139.6 L472.5 139.1 L473.2 139.3 L473.9 139.6 L474.6 139.5 L475.3 139.1 L476.0 139.4 L476.7 139.7 L477.4 139.2 L478.1 139.1 L478.8 139.2 L479.5 139.6 L480.2 139.7 L480.9 139.1 L481.6 139.1 L482.3 139.2 L483.0 139.2 L483.7 139.4 L484.4 139.1 L485.1 139.2 L485.8 139.1 L486.5 139.8 L487.2 139.6 L487.9 139.0 L488.6 139.8 L489.3 139.0 L490.0 139.3 L490.7 139.8 L491.4 139.7 L492.1 139.6 L492.8 139.3 L493.5 139.1 L494.2 139.5 L494.9 139.0 L495.6 139.1 L498.8 139.2 L499.5 138.9 L500.2 139.2 L500.9 139.5 L501.6 139.4 L502.3 139.2 L503.0 139.3 L503.7 139.1 L504.4 138.8 L505.1 139.2 L505.8 139.0 L506.5 139.3 L507.2 139.4 L507.9 139.0 L508.6 139.1 L509.3 139.2 L510.0 138.9 L510.7 138.7 L511.4 139.1 L512.1 139.2 L512.8 139.1 L513.5 139.0 L514.2 139.2 L514.9 139.0 L515.6 138.9 L516.3 138.7 L517.0 138.6 L517.7 138.8 L518.4 138.4 L519.1 138.6 L519.8 138.9 L520.5 138.8 L521.2 138.7 L521.9 138.4 L522.6 138.5 L523.3 138.5 L524.0 138.7 L524.7 138.4 L525.4 138.7 L526.1 138.9 L526.8 138.2 L527.5 138.6 L528.2 138.7 L528.9 138.3 L529.6 138.4 L530.3 138.8 L531.0 137.9 L531.7 138.4 L532.4 138.0 L533.1 138.5" fill="none" stroke="#2380d4" stroke-width="1.3" stroke-linejoin="round"/>
<path d="M375.6 101V116M381.2 101V118M403.8 102V115.5M409.9 105V118.5" fill="none" stroke="#2380d4" stroke-width="1.0"/>
<path d="M396.2 104V134.5M436.3 113.6V145M496.8 139.5V148.2M497.6 139.5V148" fill="none" stroke="#1a7fd4" stroke-width="1.1" stroke-dasharray="1.1 0.7"/>
</g>

<!-- arrow + section -->
<path d="M353.8 59.4L240 70.2" stroke="#3a3a3a" stroke-width="0.95" fill="none"/>
<path d="M237.6 70.4L246.6 66.4L244.2 70.0L246.8 73.4Z" fill="#111"/>
<text x="366.3" y="64.0" font-size="10.2" font-style="italic">SECTION</text>
<rect x="344.5" y="45.6" width="17.2" height="106.2" fill="none" stroke="#f0b429" stroke-width="1.8"/>

<!-- legend -->
<g id="legend">
<rect x="290.2" y="166.6" width="239.6" height="86" fill="#fff" stroke="#8a8a8a" stroke-width="1"/>
<rect x="292.8" y="170" width="25.3" height="11.3" fill="#cfcfcf"/>
<path d="M292.8 190.7H318.1" stroke="#f26b3a" stroke-width="1.3"/>
<path d="M292.8 209.5H318.1" stroke="#6a8a46" stroke-width="1.3"/>
<path d="M292.8 227.8H318.1" stroke="#1a1a1a" stroke-width="1.1"/>
<path d="M292.8 243.7H318.1" stroke="#2f8fdc" stroke-width="1.6" stroke-dasharray="1.1 0.8"/>
<g font-size="12">
<text x="321.2" y="179.9">Industrial Demand (kW)</text>
<text x="321.2" y="195.8">PV + WT + HKT Real-time Power (kW)</text>
<text x="321.2" y="211.5">P<tspan font-size="10.3" dy="5.4">MA</tspan><tspan dy="-5.4" xml:space="preserve"> Real-time Power  (kW)</tspan></text>
<text x="321.2" y="232.5">Industrial Demand Real-time (kW)</text>
<text x="321.2" y="247.7">LI Battery Real-time Power (kW)</text>
</g>
</g>

<!-- inset -->
<g id="inset">
<rect x="51" y="5.1" width="139.5" height="110.3" fill="#fff" stroke="#000" stroke-width="2"/>
<g id="insetdata">
<path d="M53.8 88.0 L53.8 7.5 L67.0 7.5 L67.0 9.7 L89.8 9.7 L89.8 28.6 L135.7 28.6 L135.7 37.8 L158.9 37.8 L158.9 39.5 L188.8 39.5 L188.8 88.0Z" fill="#d9d9d9"/>
<path d="M65 30V87.5M102.5 30V87.5M114 30V87.5M125 30V87.5M135 40V87.5M145 40V87.5M165 45V87.5M175 45V87.5" stroke="#e6e6e6" stroke-width="0.8"/>
<rect x="53.8" y="7.3" width="135" height="106.3" fill="none" stroke="#9a9a9a" stroke-width="0.6"/>
<path d="M64.2 113.6v-1.6M64.2 7.3v1.6M77.1 113.6v-1.6M77.1 7.3v1.6M90.0 113.6v-1.6M90.0 7.3v1.6M102.9 113.6v-1.6M102.9 7.3v1.6M115.8 113.6v-1.6M115.8 7.3v1.6M128.8 113.6v-1.6M128.8 7.3v1.6M141.7 113.6v-1.6M141.7 7.3v1.6M154.6 113.6v-1.6M154.6 7.3v1.6M167.5 113.6v-1.6M167.5 7.3v1.6M180.4 113.6v-1.6M180.4 7.3v1.6M53.8 32.4h1.6M188.8 32.4h-1.6M53.8 57.4h1.6M188.8 57.4h-1.6M53.8 82.4h1.6M188.8 82.4h-1.6M53.8 107.4h1.6M188.8 107.4h-1.6" stroke="#9a9a9a" stroke-width="0.6"/>
<path d="M54.9 62.8 L55.5 62.6 L56.2 62.4 L56.8 62.8 L57.4 62.9 L58.1 63.1 L58.7 63.0 L59.4 63.1 L60.1 63.2 L60.7 62.9 L61.4 62.8 L62.1 63.1 L63.0 56.9 L63.9 57.5 L64.7 57.5 L65.3 57.9 L66.0 57.5 L66.6 58.2 L67.2 57.8 L68.0 57.2 L68.7 56.9 L69.3 48.3 L69.9 39.3 L70.6 39.0 L71.1 53.5 L71.5 61.4 L72.1 61.2 L72.8 61.1 L73.4 61.0 L74.1 61.3 L74.7 61.4 L75.4 61.2 L76.0 61.1 L76.7 61.6 L77.4 61.4 L78.0 61.3 L78.7 61.3 L79.4 61.7 L80.0 61.6 L80.7 61.3 L81.4 61.0 L82.0 61.0 L82.7 60.6 L83.4 61.3 L84.0 61.0 L84.7 61.4 L85.4 61.7 L86.0 61.9 L86.7 61.8 L87.3 61.4 L88.0 61.4 L88.6 60.8 L89.3 57.6 L89.9 53.5 L90.5 39.3 L91.1 50.4 L91.8 52.0 L92.4 53.4 L93.2 53.9 L93.9 54.0 L94.7 54.3 L95.5 56.5 L96.2 57.9 L96.9 58.2 L97.5 58.6 L98.2 59.0 L98.8 59.2 L99.5 59.7 L100.2 53.7 L101.2 40.5 L102.3 39.9 L102.9 40.3 L103.5 40.3 L104.1 41.3 L104.7 41.9 L105.4 41.5 L106.0 40.7 L106.7 40.8 L107.5 41.2 L108.2 41.3 L109.0 41.8 L109.6 40.7 L110.2 38.7 L111.2 36.4 L112.0 37.3 L112.7 38.3 L113.7 31.4 L114.7 35.8 L115.6 39.0 L116.7 44.1 L117.4 44.3 L118.0 44.0 L118.7 43.4 L119.7 33.9 L120.7 20.7 L121.5 19.4 L122.2 17.9 L122.8 17.9 L123.5 17.7 L124.1 17.5 L124.7 16.9 L125.4 17.3 L126.0 17.3 L126.7 17.6 L127.4 17.0 L128.0 16.9 L128.7 16.2 L129.8 14.4 L130.5 12.4 L131.2 18.3 L131.9 38.6 L132.9 45.9 L133.5 48.4 L134.2 50.4 L134.9 53.1 L135.7 55.6 L136.4 56.3 L137.0 57.2 L137.7 57.3 L138.5 58.3 L139.3 58.6 L140.0 60.9 L140.7 63.3 L141.9 60.8 L143.0 43.5 L144.2 20.5 L144.9 19.7 L145.7 17.8 L146.5 15.9 L147.3 13.7 L148.3 17.8 L148.9 18.3 L149.6 18.6 L150.2 18.9 L151.3 14.5 L152.0 12.9 L153.0 18.6 L154.2 26.6 L154.9 29.4 L155.7 31.3 L156.4 34.0 L157.2 36.2 L157.9 36.5 L158.5 37.4 L159.2 37.5 L159.8 42.0 L160.5 46.4 L161.1 46.7 L161.8 46.5 L162.4 46.8 L163.1 46.9 L163.7 47.1 L164.3 47.4 L164.9 47.2 L165.5 47.6 L166.1 47.4 L166.7 47.6 L167.4 47.5 L168.0 47.8 L168.7 48.2 L169.4 48.0 L170.0 48.2 L170.7 48.0 L171.4 46.7 L172.2 45.5 L172.8 39.7 L173.4 44.7 L174.0 46.5 L174.7 47.8 L175.4 48.4 L176.0 48.7 L176.7 48.6 L177.4 48.5 L178.0 48.8 L178.7 48.8 L179.4 49.0 L180.0 49.6 L180.7 49.4 L181.4 49.5 L182.0 49.7 L182.7 49.9 L183.4 49.6 L184.0 49.6 L184.7 49.5 L185.4 49.5 L186.0 49.4 L186.7 49.4 L187.3 49.2 L188.0 49.6 L188.6 49.5 L189.3 49.6" fill="none" stroke="#f0703a" stroke-width="1.4" stroke-linejoin="round"/>
<path d="M68.8 58L69.5 38.5L70.2 56M89.3 56L90 38.5L90.7 54M146.2 19L146.8 11.8L147.5 19M150.8 19L151.5 11L152.2 19M171.6 45L172.2 29.5L172.9 45M129.2 16L129.9 12.2L130.6 18" fill="none" stroke="#f0703a" stroke-width="1.2"/>
<path d="M54.2 64.2 L54.8 64.0 L55.5 63.8 L56.1 64.2 L56.7 64.3 L57.4 64.5 L58.0 64.4 L58.7 64.5 L59.4 64.6 L60.0 64.3 L60.7 64.2 L61.4 64.5 L62.3 58.3 L63.1 58.9 L64.0 58.9 L64.6 59.3 L65.2 58.9 L65.9 59.6 L66.5 59.2 L67.2 58.6 L68.0 58.3 L68.6 49.7 L69.2 40.7 L69.9 40.4 L70.4 54.9 L70.8 62.8 L71.4 62.6 L72.1 62.5 L72.7 62.4 L73.4 62.7 L74.0 62.8 L74.7 62.6 L75.3 62.5 L76.0 63.0 L76.7 62.8 L77.3 62.7 L78.0 62.7 L78.7 63.1 L79.3 63.0 L80.0 62.7 L80.7 62.4 L81.3 62.4 L82.0 62.0 L82.7 62.7 L83.3 62.4 L84.0 62.8 L84.7 63.1 L85.3 63.3 L86.0 63.2 L86.6 62.8 L87.3 62.8 L87.9 62.2 L88.6 59.0 L89.2 54.9 L89.8 40.7 L90.4 51.8 L91.1 53.4 L91.7 54.8 L92.5 55.3 L93.2 55.4 L94.0 55.7 L94.8 57.9 L95.5 59.3 L96.2 59.6 L96.8 60.0 L97.5 60.4 L98.1 60.6 L98.8 61.1 L99.5 55.1 L100.5 41.9 L101.6 41.3 L102.2 41.7 L102.8 41.7 L103.4 42.7 L104.0 43.3 L104.7 42.9 L105.3 42.1 L106.0 42.2 L106.8 42.6 L107.5 42.7 L108.3 43.2 L108.9 42.1 L109.5 40.1 L110.5 37.8 L111.2 38.7 L112.0 39.7 L113.0 32.8 L114.0 37.2 L114.9 40.4 L116.0 45.5 L116.7 45.7 L117.3 45.4 L118.0 44.8 L119.0 35.3 L120.0 22.1 L120.8 20.8 L121.5 19.3 L122.1 19.3 L122.8 19.1 L123.4 18.9 L124.0 18.3 L124.7 18.7 L125.3 18.7 L126.0 19.0 L126.7 18.4 L127.3 18.3 L128.0 17.6 L129.1 15.8 L129.8 13.8 L130.5 19.7 L131.2 40.0 L132.2 47.3 L132.8 49.8 L133.5 51.8 L134.2 54.5 L135.0 57.0 L135.7 57.7 L136.3 58.6 L137.0 58.7 L137.8 59.7 L138.6 60.0 L139.3 62.3 L140.0 64.7 L141.2 62.2 L142.3 44.9 L143.5 21.9 L144.2 21.1 L145.0 19.2 L145.8 17.3 L146.6 15.1 L147.6 19.2 L148.2 19.7 L148.9 20.0 L149.5 20.3 L150.6 15.9 L151.3 14.3 L152.3 20.0 L153.5 28.0 L154.2 30.8 L155.0 32.7 L155.8 35.4 L156.5 37.6 L157.2 37.9 L157.8 38.8 L158.5 38.9 L159.2 43.4 L159.8 47.8 L160.4 48.1 L161.1 47.9 L161.7 48.2 L162.4 48.3 L163.0 48.5 L163.6 48.8 L164.2 48.6 L164.8 49.0 L165.4 48.8 L166.0 49.0 L166.7 48.9 L167.3 49.2 L168.0 49.6 L168.7 49.4 L169.3 49.6 L170.0 49.4 L170.8 48.1 L171.5 46.9 L172.1 41.1 L172.7 46.1 L173.3 47.9 L174.0 49.2 L174.7 49.8 L175.3 50.1 L176.0 50.0 L176.7 49.9 L177.3 50.2 L178.0 50.2 L178.7 50.4 L179.3 51.0 L180.0 50.8 L180.7 50.9 L181.3 51.1 L182.0 51.3 L182.7 51.0 L183.3 51.0 L184.0 50.9 L184.7 50.9 L185.3 50.8 L186.0 50.8 L186.7 50.6 L187.3 51.0 L187.9 50.9 L188.6 51.0" fill="none" stroke="#3e6a22" stroke-width="1.3" stroke-linejoin="round"/>
<path d="M54.2 7.9H60.3M63.9 7.9H67.2V27" fill="none" stroke="#111" stroke-width="1.3"/>
<path d="M67.2 28.3 L67.4 24.8 L67.6 25.2 L67.9 24.5 L68.1 28.3 L68.3 29.1 L68.5 27.7 L68.7 26.2 L69.0 28.6 L69.2 28.4 L69.4 27.2 L69.6 25.6 L69.8 25.9 L70.1 26.5 L70.3 26.0 L70.5 26.5 L70.7 27.6 L70.9 29.2 L71.2 24.6 L71.4 27.3 L71.6 24.5 L71.8 24.9 L72.0 28.5 L72.3 27.3 L72.5 29.1 L72.7 26.6 L72.9 24.4 L73.1 26.3 L73.4 27.4 L73.6 29.2 L73.8 29.4 L74.0 26.8 L74.2 26.4 L74.5 24.8 L74.7 27.7 L74.9 25.4 L75.1 25.1 L75.3 24.4 L75.6 24.3 L75.8 27.9 L76.0 24.9 L76.2 29.3 L76.4 24.8 L76.7 28.8 L76.9 25.0 L77.1 24.4 L77.3 28.0 L77.5 25.6 L77.8 28.1 L78.0 25.3 L78.2 24.6 L78.4 28.3 L78.6 28.0 L78.9 28.7 L79.1 28.1 L79.3 24.7 L79.5 27.6 L79.7 28.0 L80.0 26.7 L80.2 29.1 L80.4 25.6 L80.6 29.3 L80.8 28.0 L81.1 24.4 L81.3 24.4 L81.5 27.7 L81.7 28.6 L81.9 24.7 L82.2 25.9 L82.4 28.1 L82.6 25.2 L82.8 28.8 L83.0 26.8 L83.3 24.6 L83.5 26.2 L83.7 27.3 L83.9 26.6 L84.1 27.8 L84.4 25.1 L84.6 28.4 L84.8 26.2 L85.0 27.7 L85.2 27.6 L85.5 26.5 L85.7 26.3 L85.9 28.4 L86.1 29.2 L86.3 28.4 L86.6 27.2 L86.8 25.8 L87.0 24.6 L87.2 29.4 L87.4 28.0 L87.7 28.6 L87.9 26.0 L88.1 27.5 L88.3 29.4 L88.5 28.6 L88.8 27.4 L89.0 25.9 L89.2 26.5 L89.4 28.9 L89.8 26.6 L90.1 27.4 L90.5 27.2 L90.8 27.9 L91.2 27.7 L91.5 26.3 L91.9 25.6 L92.2 26.3 L92.6 26.7 L92.9 27.1 L93.3 27.7 L93.6 27.9 L94.0 25.7 L94.3 27.8 L94.7 27.7 L95.0 27.9 L95.4 27.1 L95.7 26.3 L96.1 27.8 L96.4 27.7 L96.8 27.4 L97.1 28.0 L97.5 26.5 L97.8 25.8 L98.2 27.0 L98.5 27.7 L98.9 26.1 L99.2 27.6 L99.6 28.0 L99.9 26.2 L100.3 27.2 L100.6 27.4 L101.0 26.8 L101.3 26.1 L101.7 26.3 L102.0 27.6 L102.4 27.7 L102.7 26.8 L103.1 25.8 L103.4 27.7 L103.8 27.6 L104.1 26.2 L104.5 27.1 L104.8 27.9 L105.2 27.9 L105.5 27.0 L105.9 26.8 L106.2 27.1 L106.6 26.1 L106.9 26.1 L107.3 26.1 L107.6 27.4 L108.0 26.5 L108.3 27.1 L108.7 26.6 L109.0 26.9 L109.4 26.0 L109.7 25.7 L110.1 28.2 L110.4 26.6 L110.8 25.9 L111.1 27.2 L111.5 27.6 L111.8 26.0 L112.2 27.2 L112.5 26.5 L112.9 27.0" fill="none" stroke="#111" stroke-width="1.3"/>
<path d="M113.0 26.9 L113.0 37.6 L113.4 37.2 L113.9 37.2 L114.3 38.4 L114.8 38.2 L115.2 37.8 L115.7 37.9 L116.1 37.5 L116.6 38.1 L117.0 37.7 L117.5 38.3 L117.9 38.1 L118.4 38.2 L118.8 38.4 L119.3 37.5 L119.7 37.2 L120.2 37.4 L120.6 37.4 L121.1 37.3 L121.5 37.3 L122.0 37.9 L122.4 38.2 L122.9 37.7 L123.3 38.3 L123.8 38.3 L124.2 37.3 L124.7 37.9 L125.1 37.7 L125.6 37.3 L126.0 38.4 L126.5 37.5 L126.9 37.9 L127.4 38.0 L127.8 38.3 L128.3 38.0 L128.7 37.7 L129.2 37.7 L129.6 37.4 L130.1 38.4 L130.5 38.4 L131.0 37.5 L131.4 37.2 L131.8 37.5 L132.3 37.6 L132.7 38.3 L133.2 38.3 L133.6 38.2 L134.1 37.3 L134.5 38.1 L135.0 38.1 L135.4 38.0 L135.9 38.4 L136.3 37.3 L136.8 37.4 L137.2 38.1 L137.7 38.3 L138.1 38.0 L138.6 37.6 L139.0 37.9 L139.5 38.1 L139.9 37.3 L140.4 37.6 L140.8 37.5 L141.3 37.3 L141.7 37.8 L142.2 37.4 L142.6 37.5 L143.1 37.4 L143.5 38.0 L144.0 37.2 L144.4 38.1 L144.9 37.4 L145.3 37.2 L145.8 38.3 L146.2 37.5 L146.7 38.3 L147.1 38.2 L147.6 38.3 L148.0 37.4 L148.5 37.7 L148.9 37.3 L149.4 38.3 L149.8 38.2 L150.3 38.0 L150.7 37.7 L151.2 37.6 L151.6 38.2 L152.1 37.8 L152.5 38.0 L153.0 37.4 L153.4 37.5 L153.9 37.3 L154.3 38.1 L154.8 37.9 L155.2 37.4 L155.7 38.2 L156.1 37.5 L156.6 37.7 L157.0 37.4 L157.5 37.5 L157.9 38.2 L158.4 37.6 L158.8 37.4" fill="none" stroke="#222" stroke-width="1.0"/>
<path d="M117 37v-4M121.5 37v-3.5M126 37v-3M138 37v-3.2M140 38v-3M145 36v3.5M149 37v-4" stroke="#222" stroke-width="0.7"/>
<path d="M159.1 37.8V64.5" stroke="#222" stroke-width="1.0"/>
<path d="M159.0 42.4 L159.3 42.0 L159.7 43.3 L160.0 41.6 L160.4 43.5 L160.7 41.4 L161.1 43.3 L161.4 42.8 L161.8 41.8 L162.1 42.4 L162.5 41.9 L162.8 41.9 L163.2 41.7 L163.5 42.1 L163.9 43.5 L164.2 43.5 L164.6 43.3 L164.9 41.5 L165.3 41.9 L165.6 43.3 L166.0 41.4 L166.3 42.9 L166.7 41.9 L167.0 43.5 L167.4 41.3 L167.7 43.1 L168.1 42.0 L168.4 41.6 L168.8 41.3 L169.1 43.1 L169.5 42.5 L169.8 41.7 L170.2 42.3 L170.5 43.3 L170.9 41.8 L171.2 42.6 L171.6 41.6 L171.9 41.7 L172.3 43.0 L172.6 42.9 L173.0 41.7 L173.3 41.5 L173.7 41.5 L174.0 42.6 L174.4 42.4 L174.7 41.9 L175.1 41.8 L175.4 42.6 L175.8 42.9 L176.1 43.1 L176.5 42.6 L176.8 41.7 L177.2 41.4 L177.5 42.9 L177.9 42.2 L178.2 42.9 L178.6 41.4 L178.9 43.1 L179.3 42.0 L179.6 43.2 L180.0 43.2 L180.3 42.4 L180.7 41.3 L181.0 43.3 L181.4 42.3 L181.7 43.2 L182.1 41.9 L182.4 41.7 L182.8 43.1 L183.1 42.1 L183.5 41.7 L183.8 42.1 L184.2 42.6 L184.5 41.3 L184.9 42.4 L185.2 42.3 L185.6 42.4 L185.9 41.6 L186.3 42.9 L186.6 43.1 L187.0 43.2 L187.3 42.0 L187.7 42.9 L188.0 42.1 L188.4 43.0" fill="none" stroke="#111" stroke-width="1.1"/>
<path d="M54.2 27.8 L54.8 28.6 L55.4 28.6 L56.0 28.0 L56.5 28.1 L57.0 28.2 L57.5 28.3 L58.0 27.8 L58.5 29.2 L59.0 28.5 L59.5 28.6 L60.0 28.7 L60.7 29.3 L61.4 30.4 L62.0 30.1 L62.5 30.8 L63.1 32.0 L63.6 31.9 L64.2 32.2 L64.8 33.3 L65.5 33.6 L66.0 33.9 L66.5 34.4 L67.0 34.0 L67.8 45.4 L68.5 53.3 L69.3 50.5 L69.9 55.5 L70.5 73.1 L71.2 60.0 L71.8 51.7 L72.4 50.8 L73.0 50.4 L73.5 50.1 L74.0 50.8 L74.5 51.2 L75.0 50.4 L75.5 51.0 L76.0 51.3 L76.5 50.4 L77.0 51.0 L77.5 50.9 L78.0 50.1 L78.5 49.9 L79.0 50.2 L79.5 50.0 L80.0 50.1 L80.5 50.9 L81.0 50.9 L81.5 50.6 L82.0 50.7 L82.5 50.7 L83.0 50.8 L83.5 51.3 L84.0 51.0 L84.5 51.1 L85.0 50.9 L85.6 51.2 L86.2 50.6 L86.7 51.4 L87.3 52.2 L87.9 52.5 L88.5 53.7 L89.0 55.9 L89.6 58.4 L90.1 60.3 L90.7 62.7 L91.5 55.5 L92.0 56.2 L92.5 56.5 L93.0 56.2 L93.5 56.6 L94.0 56.9 L94.5 56.0 L95.0 55.5 L95.5 54.2 L96.0 53.4 L96.5 52.5 L97.0 53.1 L97.5 52.8 L98.0 54.2 L98.8 58.6 L99.7 70.5 L100.3 70.2 L100.8 70.7 L101.4 71.3 L102.0 71.1 L102.5 70.5 L103.0 70.5 L103.5 70.2 L104.0 70.5 L104.5 70.4 L105.0 71.0 L105.5 72.1 L106.0 72.0 L106.5 72.3 L107.1 72.4 L107.6 71.5 L108.3 73.0 L109.0 75.0 L109.6 75.8 L110.2 76.1 L110.8 76.8 L111.4 77.6 L112.0 81.3 L112.5 84.9 L113.4 94.7 L114.2 87.7 L114.7 82.5 L115.2 78.1 L115.8 78.7 L116.4 78.8 L117.0 79.1 L117.6 79.8 L118.3 80.0 L118.9 81.3 L119.4 83.3 L120.0 85.7 L120.5 88.1 L121.0 90.4 L121.6 92.7 L122.2 95.1 L122.7 97.6 L123.3 98.6 L123.9 99.2 L124.5 100.1 L125.0 100.2 L125.5 101.3 L126.0 102.7 L126.5 102.7 L127.1 103.9 L127.8 104.7 L128.4 105.2 L128.9 108.8 L129.5 110.8 L130.3 111.8 L130.8 89.6 L131.3 67.1 L131.9 71.7 L132.5 74.9 L133.0 72.0 L133.5 69.9 L134.0 70.6 L134.5 71.6 L135.0 71.5 L135.5 68.7 L136.0 66.6 L136.5 63.3 L137.0 62.3 L137.5 62.1 L138.0 61.8 L138.5 62.0 L139.0 61.6 L139.5 61.7 L140.0 61.4 L140.5 60.4 L141.0 60.0 L141.5 59.3 L142.1 60.8 L142.7 62.0 L143.3 68.8 L144.0 75.3 L144.6 85.3 L145.1 94.2 L145.7 97.5 L146.2 99.0 L146.8 102.4 L147.4 104.7 L147.9 105.1 L148.5 106.3 L149.1 106.3 L149.6 106.7 L150.2 107.7 L150.7 108.3 L151.2 108.6 L151.8 108.9 L152.3 107.8 L152.9 106.7 L153.4 106.0 L154.0 101.8 L154.6 98.2 L155.2 94.7 L155.8 91.1 L156.3 87.7 L156.8 84.9 L157.4 81.6 L158.1 80.3 L158.8 79.4 L159.4 104.2 L159.8 81.3 L160.3 81.2 L160.9 81.9 L161.4 82.1 L161.9 81.7 L162.5 82.8 L163.0 82.3 L163.5 82.8 L164.0 82.7 L164.5 82.8 L165.0 81.8 L165.5 82.0 L166.0 82.5 L166.5 81.6 L167.0 81.8 L167.5 82.6 L168.0 82.7 L168.5 83.3 L169.0 83.3 L169.6 82.9 L170.1 83.4 L170.7 82.7 L171.2 82.6 L171.8 82.7 L172.4 86.1 L173.0 89.8 L173.5 88.1 L174.0 85.8 L174.5 85.3 L175.0 83.7 L175.5 83.3 L176.0 82.5 L176.5 82.6 L177.0 82.4 L177.5 82.3 L178.0 82.1 L178.5 82.2 L179.0 82.1 L179.5 81.2 L180.0 80.9 L180.5 80.9 L181.0 81.1 L181.5 80.3 L182.0 80.4 L182.5 80.7 L183.0 79.9 L183.5 80.0 L184.0 80.8 L184.5 80.5 L185.0 79.9 L185.5 79.3 L186.0 80.1 L186.5 79.7 L187.0 79.9 L187.6 80.1 L188.1 80.0 L188.6 79.5" fill="none" stroke="#2a86d6" stroke-width="1.3" stroke-linejoin="round"/>
<path d="M54.2 27.8 L54.4 26.6 L54.6 27.3 L54.8 28.3 L55.0 28.3 L55.3 26.8 L55.5 26.8 L55.7 28.9 L55.9 28.8 L56.1 27.6 L56.3 30.6 L56.5 29.0 L56.7 26.2 L56.9 27.9 L57.2 29.7 L57.4 27.5 L57.6 29.3 L57.8 26.1 L58.0 27.5 L58.2 30.1 L58.4 29.0 L58.6 29.4 L58.9 27.4 L59.1 28.8 L59.3 29.2 L59.5 27.9 L59.7 29.8 L59.9 29.3 L60.1 31.6 L60.3 29.7 L60.5 29.0 L60.8 27.8 L61.0 28.0 L61.2 30.9 L61.4 28.0 L61.6 28.2 L61.8 28.8 L62.1 30.7 L62.3 32.4 L62.5 31.7 L62.7 32.8 L62.9 29.6 L63.1 29.6 L63.4 33.2 L63.6 31.4 L63.8 33.4 L64.0 31.9 L64.2 31.3 L64.4 31.8 L64.6 31.2 L64.8 35.0 L65.1 33.6 L65.3 32.7 L65.5 33.3 L65.7 33.1 L65.9 31.7 L66.2 35.6 L66.4 34.3 L66.6 36.2 L66.8 34.2" fill="none" stroke="#2a86d6" stroke-width="1.0"/>
<path d="M71.8 50.3 L72.0 51.0 L72.2 49.5 L72.5 48.7 L72.7 52.3 L72.9 52.0 L73.1 49.9 L73.3 52.2 L73.6 51.9 L73.8 49.9 L74.0 51.1 L74.2 52.5 L74.5 50.7 L74.7 52.5 L74.9 49.7 L75.1 50.3 L75.3 51.6 L75.6 49.7 L75.8 50.0 L76.0 52.3 L76.2 50.7 L76.5 51.8 L76.7 49.5 L76.9 49.2 L77.2 49.8 L77.4 49.1 L77.6 52.1 L77.8 49.3 L78.1 50.4 L78.3 48.5 L78.5 50.1 L78.8 49.4 L79.0 49.4 L79.2 48.1 L79.5 48.4 L79.7 51.3 L79.9 49.5 L80.2 49.2 L80.4 49.0 L80.6 49.5 L80.8 49.4 L81.1 48.6 L81.3 51.2 L81.5 50.0 L81.8 49.3 L82.0 51.6 L82.2 49.1 L82.5 49.8 L82.7 52.1 L82.9 49.2 L83.2 50.5 L83.4 52.0 L83.6 51.9 L83.8 49.3 L84.1 50.0 L84.3 51.5 L84.5 50.1 L84.8 52.4 L85.0 49.3 L85.2 52.4 L85.4 50.7 L85.7 49.7 L85.9 50.6 L86.1 49.4 L86.3 51.8 L86.6 50.1 L86.8 52.8 L87.0 51.6 L87.2 50.8 L87.5 50.4 L87.7 51.9 L87.9 51.6" fill="none" stroke="#2a86d6" stroke-width="1.0"/>
<path d="M100.2 69.7 L100.6 71.6 L100.9 69.6 L101.3 70.8 L101.6 71.0 L102.0 70.4 L102.3 71.6 L102.7 70.3 L103.0 70.9 L103.3 70.5 L103.7 69.6 L104.0 69.7 L104.3 69.3 L104.7 69.9 L105.0 72.2 L105.3 71.2 L105.7 72.5 L106.0 71.4 L106.3 72.5 L106.6 71.7 L107.0 71.9 L107.3 71.1 L107.6 70.3 L107.9 71.8 L108.3 72.5 L108.7 73.1 L109.0 75.0" fill="none" stroke="#2a86d6" stroke-width="1.0"/>
<path d="M175.0 83.9 L175.3 82.9 L175.6 83.0 L175.9 83.9 L176.2 83.4 L176.5 83.5 L176.8 83.3 L177.1 81.7 L177.4 81.9 L177.7 81.2 L178.0 82.4 L178.3 82.2 L178.6 81.4 L178.9 81.4 L179.2 81.7 L179.5 81.6 L179.8 80.6 L180.1 81.6 L180.4 80.5 L180.7 80.9 L181.0 79.9 L181.3 79.7 L181.6 81.3 L181.9 80.9 L182.2 80.8 L182.5 79.4 L182.8 79.4 L183.1 79.6 L183.4 79.7 L183.7 79.8 L184.0 80.0 L184.3 79.2 L184.6 79.7 L184.9 80.3 L185.2 79.4 L185.5 80.6 L185.8 80.1 L186.1 80.3 L186.5 79.3 L186.8 79.6 L187.1 80.1 L187.4 79.4 L187.7 78.6 L188.0 80.3 L188.3 80.1 L188.6 79.5" fill="none" stroke="#2a86d6" stroke-width="1.0"/>
<path d="M159.6 81.6 L159.9 81.1 L160.2 82.8 L160.5 82.4 L160.8 81.3 L161.1 81.7 L161.5 81.5 L161.8 82.9 L162.1 81.8 L162.4 83.2 L162.7 83.0 L163.0 81.7 L163.3 82.8 L163.6 82.2 L163.9 82.8 L164.2 83.0 L164.5 81.8 L164.8 81.4 L165.1 83.0 L165.4 81.9 L165.7 82.9 L166.0 82.4 L166.3 82.6 L166.6 82.9 L166.9 82.6 L167.2 82.3 L167.5 81.6 L167.8 83.0 L168.1 82.6 L168.4 82.8 L168.7 83.8 L169.0 82.3 L169.3 83.5 L169.6 82.0 L169.9 83.2 L170.2 83.4 L170.6 82.2 L170.9 82.7 L171.2 83.5 L171.5 82.5" fill="none" stroke="#2a86d6" stroke-width="1.0"/>
</g>
<text x="161.1" y="111.9" font-size="6.7" textLength="25" lengthAdjust="spacingAndGlyphs" style="fill:#383838;stroke:#383838;stroke-width:0.25px">SECTION</text>
</g>
</svg>
</body></html>
